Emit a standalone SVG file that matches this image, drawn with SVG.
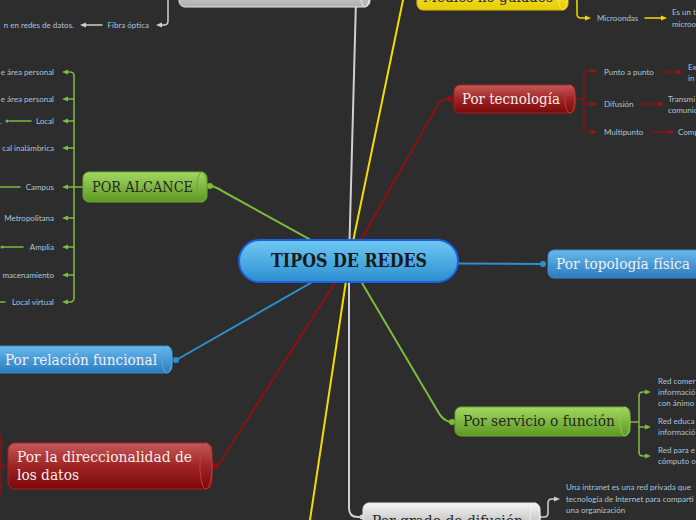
<svg xmlns="http://www.w3.org/2000/svg" width="696" height="520" viewBox="0 0 696 520">
<defs>
<linearGradient id="gc" x1="0" y1="0" x2="0" y2="1"><stop offset="0" stop-color="#70c9f4"/><stop offset="1" stop-color="#2b8fcf"/></linearGradient>
<linearGradient id="gr" x1="0" y1="0" x2="0" y2="1"><stop offset="0" stop-color="#c45a5a"/><stop offset="0.5" stop-color="#a02424"/><stop offset="1" stop-color="#7a0808"/></linearGradient>
<linearGradient id="gb" x1="0" y1="0" x2="0" y2="1"><stop offset="0" stop-color="#66b8ec"/><stop offset="1" stop-color="#2a7cc0"/></linearGradient>
<linearGradient id="gg" x1="0" y1="0" x2="0" y2="1"><stop offset="0" stop-color="#a2d862"/><stop offset="1" stop-color="#5c9820"/></linearGradient>
<linearGradient id="gy" x1="0" y1="0" x2="0" y2="1"><stop offset="0" stop-color="#fff27a"/><stop offset="1" stop-color="#e6cc00"/></linearGradient>
<linearGradient id="gw" x1="0" y1="0" x2="0" y2="1"><stop offset="0" stop-color="#f4f4f4"/><stop offset="1" stop-color="#aeaeae"/></linearGradient>
<marker id="ag" viewBox="0 0 6 6" refX="2" refY="3" markerWidth="6" markerHeight="6" orient="auto" markerUnits="userSpaceOnUse"><path d="M0,0.5 L6,3 L0,5.5z" fill="#7dbb3c"/></marker>
<marker id="ar" viewBox="0 0 6 6" refX="2" refY="3" markerWidth="6" markerHeight="6" orient="auto" markerUnits="userSpaceOnUse"><path d="M0,0.5 L6,3 L0,5.5z" fill="#9a1414"/></marker>
<marker id="ay" viewBox="0 0 6 6" refX="2" refY="3" markerWidth="6" markerHeight="6" orient="auto" markerUnits="userSpaceOnUse"><path d="M0,0.5 L6,3 L0,5.5z" fill="#f2dc00"/></marker>
<marker id="aw" viewBox="0 0 6 6" refX="2" refY="3" markerWidth="6" markerHeight="6" orient="auto" markerUnits="userSpaceOnUse"><path d="M0,0.5 L6,3 L0,5.5z" fill="#d0d0d0"/></marker>
</defs>
<style>
.t{font-family:Lato,"Open Sans",sans-serif;font-size:8px;fill:#a9c5da}
.e{text-anchor:end}
.n{font-family:"DejaVu Serif","Liberation Serif",serif;font-size:14px}
.lt{fill:#f6eeee}
.dk{fill:#262626}
.c{fill:none;stroke-linecap:round;stroke-linejoin:round}
.cg{stroke:#7dbb3c}
.cr{stroke:#8e1010}
.cy{stroke:#f2dc00}
.cw{stroke:#d0d0d0}
.cb{stroke:#2d8fd0}
.m{stroke-width:2}
.s{stroke-width:1.5}
</style>
<rect x="0" y="0" width="696" height="520" fill="#2d2d2d"/>

<g id="connectors">
<path class="c cw m" d="M349,261 L356,0"/>
<path class="c cw m" d="M349,261 L349,508 Q349,517 358,517 L363,517"/>
<path class="c cy m" d="M349,261 L403,0"/>
<path class="c cy m" d="M349,261 L310,520"/>
<path class="c cr m" d="M349,261 L439,103 Q442,99 448,99"/>
<path class="c cr m" d="M349,261 L222,459 Q219,465 214,466"/>
<path class="c cg m" d="M349,261 L224,192 Q218,188 212,186"/>
<path class="c cg m" d="M349,261 L437,410 Q442,420 450,422"/>
<path class="c cb m" d="M349,263 L543,264"/>
<path class="c cb m" d="M349,261 L178,359"/>
<circle cx="450" cy="99" r="3" fill="#8e1010"/>
<circle cx="216" cy="466" r="3" fill="#8e1010"/>
<circle cx="210" cy="186" r="3" fill="#7dbb3c"/>
<circle cx="452" cy="422" r="3" fill="#7dbb3c"/>
<circle cx="543" cy="264" r="3" fill="#2d8fd0"/>
<circle cx="176" cy="360" r="3" fill="#2d8fd0"/>
<circle cx="362" cy="517" r="2.5" fill="#d0d0d0"/>

<path class="c cg s" d="M83,187 H74 M74,76 V298"/>
<path class="c cg s" d="M74,76 Q74,72 70,72 H66" marker-end="url(#ag)"/>
<path class="c cg s" d="M74,99 H66" marker-end="url(#ag)"/>
<path class="c cg s" d="M74,121 H66" marker-end="url(#ag)"/>
<path class="c cg s" d="M74,148 H66" marker-end="url(#ag)"/>
<path class="c cg s" d="M74,187 H66" marker-end="url(#ag)"/>
<path class="c cg s" d="M74,218 H66" marker-end="url(#ag)"/>
<path class="c cg s" d="M74,247 H66" marker-end="url(#ag)"/>
<path class="c cg s" d="M74,275 H66" marker-end="url(#ag)"/>
<path class="c cg s" d="M74,298 Q74,302 70,302 H66" marker-end="url(#ag)"/>
<path class="c cg s" d="M9,121 H31 M0,187 H20 M3,247 H23 M0,302 H5"/>
<circle cx="7" cy="121" r="1.5" fill="#7dbb3c"/>
<circle cx="2" cy="247" r="1.5" fill="#7dbb3c"/>

<path class="c cr s" d="M575,99 H584 M584,75 V128"/>
<path class="c cr s" d="M584,75 Q584,71 588,71 H593" marker-end="url(#ar)"/>
<path class="c cr s" d="M584,104 H593" marker-end="url(#ar)"/>
<path class="c cr s" d="M584,128 Q584,132 588,132 H593" marker-end="url(#ar)"/>
<path class="c cr s" d="M660,72 H679" marker-end="url(#ar)"/>
<path class="c cr s" d="M640,104 H660" marker-end="url(#ar)"/>
<path class="c cr s" d="M652,132 H671" marker-end="url(#ar)"/>

<path class="c cr s" d="M8,466 H1 M1,435 V495"/>

<path class="c cy s" d="M568,-4 Q577,-4 577,2 V14 Q577,18 581,18 H587" marker-end="url(#ay)"/>
<path class="c cy s" d="M645,18 H663" marker-end="url(#ay)"/>

<path class="c cw s" d="M179,-6 H172 Q168,-6 168,-2 V21 Q168,25 164,25 H160" marker-end="url(#aw)"/>
<path class="c cw s" d="M102,25 H84" marker-end="url(#aw)"/>

<path class="c cw s" d="M537,517 H544 Q548,517 548,513 V503 Q548,499 552,499 H556" marker-end="url(#aw)"/>

<path class="c cg s" d="M630,422 H639 M639,396 V452"/>
<path class="c cg s" d="M639,396 Q639,392 643,392 H647" marker-end="url(#ag)"/>
<path class="c cg s" d="M639,427 H647" marker-end="url(#ag)"/>
<path class="c cg s" d="M639,452 Q639,456 643,456 H647" marker-end="url(#ag)"/>
</g>

<g id="center">
<rect x="239" y="240" width="219" height="42" rx="21" fill="url(#gc)" stroke="#1f5fe6" stroke-width="2"/>
<text x="349" y="267" text-anchor="middle" font-family="'DejaVu Serif','Liberation Serif',serif" font-weight="bold" font-size="18" fill="#1a1a1a" textLength="156" lengthAdjust="spacingAndGlyphs">TIPOS DE REDES</text>
</g>

<g id="por-alcance">
<rect x="83" y="172" width="124" height="30" rx="6" fill="url(#gg)" stroke="#6aa82e"/>
<ellipse cx="202" cy="187" rx="5" ry="15" fill="url(#gg)" stroke="#6aa82e"/>
<text class="n dk" x="92" y="192" textLength="101" lengthAdjust="spacingAndGlyphs">POR ALCANCE</text>
</g>
<g id="alcance-items">
<text class="t e" x="54" y="75">e área personal</text>
<text class="t e" x="54" y="102">e área personal</text>
<text class="t e" x="54" y="124">Local</text>
<text class="t" x="0" y="124">.</text>
<text class="t e" x="54" y="151">cal inalámbrica</text>
<text class="t e" x="54" y="190">Campus</text>
<text class="t e" x="54" y="221">Metropolitana</text>
<text class="t e" x="54" y="250">Amplia</text>
<text class="t e" x="54" y="278">macenamiento</text>
<text class="t e" x="54" y="305">Local virtual</text>
</g>

<g id="por-tecnologia">
<rect x="454" y="85" width="121" height="28" rx="6" fill="url(#gr)" stroke="#a82020"/>
<ellipse cx="570" cy="99" rx="5" ry="14" fill="url(#gr)" stroke="#c04040"/>
<text class="n lt" x="462" y="104" textLength="98" lengthAdjust="spacingAndGlyphs">Por tecnología</text>
</g>
<g id="tecnologia-items">
<text class="t" x="604" y="75">Punto a punto</text>
<text class="t" x="688" y="70">Ex</text>
<text class="t" x="688" y="81">in</text>
<text class="t" x="604" y="107">Difusión</text>
<text class="t" x="668" y="102">Transmi</text>
<text class="t" x="668" y="113">comunic</text>
<text class="t" x="604" y="135">Multipunto</text>
<text class="t" x="678" y="135">Comp</text>
</g>

<g id="por-topologia">
<rect x="548" y="250" width="160" height="28" rx="6" fill="url(#gb)" stroke="#3a8ccc"/>
<text class="n lt" x="556" y="269" textLength="134" lengthAdjust="spacingAndGlyphs">Por topología física</text>
</g>

<g id="por-relacion">
<rect x="-12" y="346" width="184" height="27" rx="6" fill="url(#gb)" stroke="#3a8ccc"/>
<ellipse cx="167" cy="359.5" rx="5" ry="13.5" fill="url(#gb)" stroke="#58a8e0"/>
<text class="n lt" x="5" y="365" textLength="152" lengthAdjust="spacingAndGlyphs">Por relación funcional</text>
</g>

<g id="por-direccionalidad">
<rect x="8" y="443" width="204" height="46" rx="7" fill="url(#gr)" stroke="#a82020"/>
<ellipse cx="206" cy="466" rx="6" ry="23" fill="url(#gr)" stroke="#c04040"/>
<text class="n lt" x="17" y="462" textLength="175" lengthAdjust="spacingAndGlyphs">Por la direccionalidad de</text>
<text class="n lt" x="17" y="480" textLength="62" lengthAdjust="spacingAndGlyphs">los datos</text>
</g>

<g id="por-servicio">
<rect x="455" y="407" width="175" height="29" rx="6" fill="url(#gg)" stroke="#6aa82e"/>
<ellipse cx="625" cy="421.5" rx="5" ry="14.5" fill="url(#gg)" stroke="#8cc850"/>
<text class="n dk" x="463" y="426" textLength="152" lengthAdjust="spacingAndGlyphs">Por servicio o función</text>
</g>
<g id="servicio-items">
<text class="t" x="658" y="384">Red comer</text>
<text class="t" x="658" y="395">informació</text>
<text class="t" x="658" y="406">con ánimo</text>
<text class="t" x="658" y="424">Red educa</text>
<text class="t" x="658" y="435">informació</text>
<text class="t" x="658" y="453">Red para e</text>
<text class="t" x="658" y="464">cómputo o</text>
</g>

<g id="por-grado">
<rect x="363" y="503" width="177" height="30" rx="6" fill="url(#gw)" stroke="#e8e8e8"/>
<ellipse cx="535" cy="518" rx="5" ry="15" fill="url(#gw)" stroke="#f0f0f0"/>
<text class="n dk" x="372" y="526" textLength="151" lengthAdjust="spacingAndGlyphs">Por grado de difusión</text>
</g>
<g id="grado-items">
<text class="t" x="566" y="490">Una intranet es una red privada que</text>
<text class="t" x="566" y="502">tecnología de Internet para comparti</text>
<text class="t" x="566" y="513">una organización</text>
</g>

<g id="top-gray">
<rect x="179" y="-25" width="191" height="32" rx="6" fill="url(#gw)" stroke="#e8e8e8"/>
<ellipse cx="365" cy="-9" rx="5" ry="16" fill="url(#gw)" stroke="#f0f0f0"/>
</g>
<g id="top-gray-items">
<text class="t e" x="149" y="28">Fibra óptica</text>
<text class="t e" x="74" y="28">n en redes de datos.</text>
</g>

<g id="medios-no-guiados">
<rect x="417" y="-25" width="151" height="35" rx="6" fill="url(#gy)" stroke="#d8c000"/>
<ellipse cx="563" cy="-7.5" rx="5" ry="17.5" fill="url(#gy)" stroke="#f8e840"/>
<text class="n dk" x="423" y="2" textLength="130" lengthAdjust="spacingAndGlyphs">Medios no guiados</text>
</g>
<g id="medios-items">
<text class="t" x="597" y="21">Microondas</text>
<text class="t" x="672" y="15">Es un t</text>
<text class="t" x="672" y="27">microo</text>
</g>
</svg>
